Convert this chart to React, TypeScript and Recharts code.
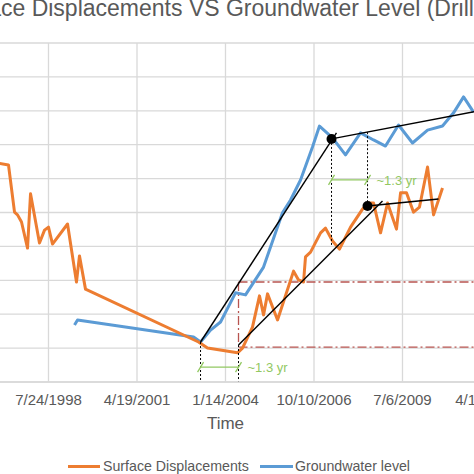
import React from "react";
import {
  ComposedChart,
  Line,
  XAxis,
  YAxis,
  CartesianGrid,
  ReferenceLine,
  ReferenceDot,
} from "recharts";

// Dates are Excel serial day numbers, values are relative levels (0-10)
const dispDates = [
  35322, 35548, 35616, 35650, 35695, 35763, 35797, 35898, 35955, 36000, 36045, 36215,
  36316, 36350, 36418, 37695, 37797, 38136, 38192, 38305, 38384, 38430, 38475, 38588,
  38769, 38825, 38882, 38904, 38961, 39074, 39130, 39209, 39288, 39413, 39548, 39605,
  39673, 39752, 39831, 39932, 39978, 40045, 40125, 40192, 40283, 40351, 40452,
];
const dispValues = [
  6.5, 6.4, 5.01, 4.93, 4.72, 3.95, 5.55, 4.1, 4.48, 4.57, 4.07, 4.66,
  2.95, 3.72, 2.74, 1.18, 1.0, 0.86, 1.0, 1.62, 2.54, 1.98, 2.6, 1.83,
  3.27, 3.01, 2.95, 3.69, 3.83, 4.4, 4.54, 4.16, 3.92, 4.57, 5.1, 5.28,
  5.28, 4.4, 5.28, 4.51, 5.58, 5.58, 5.01, 5.16, 6.34, 4.93, 5.72,
];

const gwDates = [
  36294, 36328, 37639, 37718, 37831, 37944, 38113, 38226, 38430, 38565, 38644, 38735,
  38848, 38983, 39062, 39209, 39356, 39526, 39673, 39808, 39955, 40113, 40283, 40452,
  40577, 40690, 40803,
];
const gwValues = [
  1.68, 1.83, 1.33, 1.18, 1.53, 1.77, 2.63, 2.57, 3.39, 4.4, 4.99, 5.37,
  5.96, 6.93, 7.55, 7.2, 6.7, 7.35, 7.14, 6.96, 7.58, 7.05, 7.43, 7.55,
  7.94, 8.41, 7.96,
];

const xTicks = [35000, 36000, 37000, 38000, 39000, 40000, 41000];
const yTicks = [0, 1, 2, 3, 4, 5, 6, 7, 8, 9, 10];

// trend lines: [x1, y1, x2, y2]
const trends = [
  [37718, 1.18, 39254, 7.35], // groundwater rise
  [39198, 7.17, 40900, 8.02], // groundwater plateau
  [38147, 1.09, 39774, 5.34], // displacement rise
  [39605, 5.19, 40407, 5.4], // displacement plateau
];
const breakPoints = [
  [39198, 7.17],
  [39605, 5.19],
];
// dotted drop lines: [x, yTop, yBottom]
const dropLines = [
  [37718, 1.18, 0],
  [38147, 1.09, 0],
  [39198, 7.17, 4.04],
  [39605, 7.37, 5.19],
];
const levelLines = [2.95, 1.03];
const levelStart = 38147;
// lag markers: [x1, x2, y]
const lags = [
  [37718, 38147, 0.44],
  [39198, 39605, 5.96],
];
const lagLabel = "~1.3 yr";

const ORANGE = "#ED7D31";
const BLUE = "#5B9BD5";
const GREEN = "#92C862";
const RED = "#B85450";
const TEXT = "#595959";
const FONT = '"Liberation Sans", Arial, sans-serif';

const dispData = dispDates.map((x, i) => ({ x, y: dispValues[i] }));
const gwData = gwDates.map((x, i) => ({ x, y: gwValues[i] }));

const fmtDate = (serial: number) => {
  const d = new Date(Date.UTC(1899, 11, 30) + serial * 86400000);
  return `${d.getUTCMonth() + 1}/${d.getUTCDate()}/${d.getUTCFullYear()}`;
};

const LagShape = (props: any) => {
  const { x1, y1, x2, y2 } = props;
  return (
    <g>
      <line x1={x1} y1={y1} x2={x2} y2={y2} stroke={GREEN} strokeWidth={1.3} />
      <line x1={x1 - 3} y1={y1 + 5} x2={x1 + 3} y2={y1 - 5} stroke={GREEN} strokeWidth={1.3} />
      <line x1={x2 - 3} y1={y2 + 5} x2={x2 + 3} y2={y2 - 5} stroke={GREEN} strokeWidth={1.3} />
      <text x={x2 + 9} y={y2 + 5} fill={GREEN} fontSize={13} fontFamily={FONT}>
        {lagLabel}
      </text>
    </g>
  );
};

export default function App() {
  return (
    <div
      style={{
        position: "fixed",
        left: 0,
        top: 0,
        width: 474,
        height: 474,
        overflow: "hidden",
        background: "#fff",
        fontFamily: FONT,
      }}
    >
      <div style={{ position: "absolute", left: -120.5, top: 0 }}>
        <ComposedChart width={631} height={474} margin={{ top: 43, right: 20, left: 20, bottom: 32 }}>
          <CartesianGrid stroke="#D9D9D9" strokeWidth={1.3} />
          <XAxis
            type="number"
            dataKey="x"
            domain={[35000, 41000]}
            ticks={xTicks}
            tickFormatter={fmtDate}
            height={60}
            tickSize={0}
            tickMargin={12}
            tick={{ fill: TEXT, fontSize: 15, fontFamily: FONT }}
            axisLine={{ stroke: "#D9D9D9", strokeWidth: 1.3 }}
            label={{
              value: "Time",
              position: "insideBottom",
              offset: 13,
              fill: TEXT,
              fontSize: 17,
              fontFamily: FONT,
            }}
          />
          <YAxis
            type="number"
            domain={[0, 10]}
            ticks={yTicks}
            width={60}
            tickSize={0}
            tickMargin={8}
            axisLine={false}
            tick={{ fill: TEXT, fontSize: 15, fontFamily: FONT }}
          />
          {levelLines.map((y, i) => (
            <ReferenceLine
              key={`lvl-${i}`}
              segment={[
                { x: levelStart, y },
                { x: 41000, y },
              ]}
              stroke={RED}
              strokeWidth={1.3}
              strokeDasharray="9 3 2 3"
            />
          ))}
          <ReferenceLine
            segment={[
              { x: levelStart, y: levelLines[0] },
              { x: levelStart, y: 1.09 },
            ]}
            stroke={RED}
            strokeWidth={1.3}
            strokeDasharray="9 3 2 3"
          />
          <Line
            data={gwData}
            dataKey="y"
            stroke={BLUE}
            strokeWidth={3}
            dot={false}
            isAnimationActive={false}
            strokeLinejoin="round"
          />
          <Line
            data={dispData}
            dataKey="y"
            stroke={ORANGE}
            strokeWidth={3}
            dot={false}
            isAnimationActive={false}
            strokeLinejoin="round"
          />
          {dropLines.map(([x, y1, y2], i) => (
            <ReferenceLine
              key={`drop-${i}`}
              segment={[
                { x, y: y1 },
                { x, y: y2 },
              ]}
              stroke="#000"
              strokeWidth={1}
              strokeDasharray="2 2"
            />
          ))}
          {trends.map(([x1, y1, x2, y2], i) => (
            <ReferenceLine
              key={`trend-${i}`}
              segment={[
                { x: x1, y: y1 },
                { x: x2, y: y2 },
              ]}
              stroke="#000"
              strokeWidth={1.4}
            />
          ))}
          {lags.map(([x1, x2, y], i) => (
            <ReferenceLine
              key={`lag-${i}`}
              segment={[
                { x: x1, y },
                { x: x2, y },
              ]}
              shape={LagShape}
            />
          ))}
          {breakPoints.map(([x, y], i) => (
            <ReferenceDot key={`bp-${i}`} x={x} y={y} r={5} fill="#000" stroke="none" />
          ))}
        </ComposedChart>
      </div>
      <div
        style={{
          position: "absolute",
          left: -54,
          top: -4,
          fontSize: 23,
          lineHeight: "24px",
          color: TEXT,
          whiteSpace: "nowrap",
        }}
      >
        Surface Displacements VS Groundwater Level (Drill 1)
      </div>
      <div
        style={{
          position: "absolute",
          left: 68,
          top: 457,
          height: 18,
          display: "flex",
          alignItems: "center",
          fontSize: 14.2,
          color: TEXT,
          whiteSpace: "nowrap",
        }}
      >
        <span style={{ width: 32, height: 3, background: ORANGE, marginRight: 3 }} />
        <span>Surface Displacements</span>
        <span style={{ width: 33, height: 3, background: BLUE, marginLeft: 11, marginRight: 2 }} />
        <span>Groundwater level</span>
      </div>
    </div>
  );
}
